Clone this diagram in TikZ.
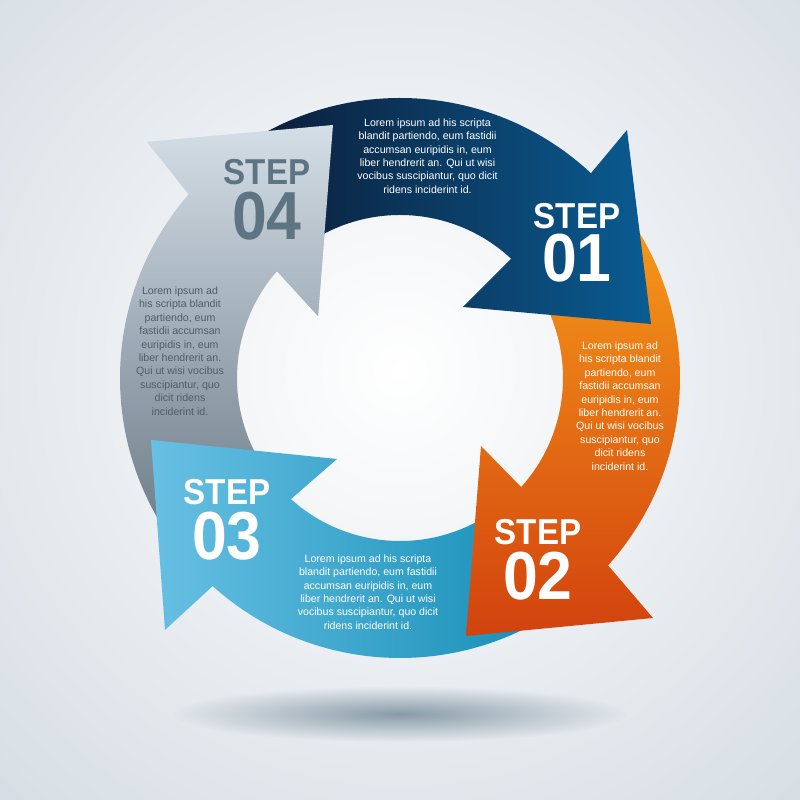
\documentclass[tikz,border=0pt]{standalone}
\usepackage{fontspec}
\setmainfont{Liberation Sans}
\usepackage{graphicx}
\usetikzlibrary{fadings}
\definecolor{bgout}{RGB}{212,220,227}
\definecolor{shadowc}{RGB}{120,142,156}
\definecolor{bluel}{RGB}{12,26,52}
\definecolor{bluem}{RGB}{14,52,94}
\definecolor{bluer}{RGB}{10,92,146}
\definecolor{orat}{RGB}{246,154,26}
\definecolor{oram}{RGB}{236,118,20}
\definecolor{orab}{RGB}{210,66,14}
\definecolor{cyal}{RGB}{104,192,228}
\definecolor{cyam}{RGB}{48,164,205}
\definecolor{cyar}{RGB}{18,140,180}
\definecolor{grat}{RGB}{212,222,230}
\definecolor{gram}{RGB}{168,182,193}
\definecolor{grab}{RGB}{108,123,136}
\definecolor{graytext}{RGB}{80,94,106}
\definecolor{step4c}{RGB}{95,116,131}
\tikzfading[name=shadowfade, inner color=transparent!15, outer color=transparent!100]
\newcommand\mysteplabel[2]{\vbox{\offinterlineskip\halign{\hfil##\hfil\cr
  \scalebox{0.92}[1]{\fontsize{36}{36}\selectfont STEP}\cr
  \noalign{\kern #2}
  \scalebox{0.92}[1]{\fontsize{68}{68}\selectfont #1}\cr}}}
\begin{document}
\begin{tikzpicture}[x=1pt,y=1pt,
  steptext/.style={font=\bfseries, inner sep=0pt},
  lorem/.style={font=\fontsize{10.6}{13.4}\selectfont, align=center, inner sep=0pt},
  blueband/.style={left color=bluel, middle color=bluem, right color=bluer},
  orangeband/.style={top color=orat, middle color=oram, bottom color=orab},
  cyanband/.style={left color=cyal, middle color=cyam, right color=cyar},
  grayband/.style={top color=grat, middle color=gram, bottom color=grab},
]
\useasboundingbox (0,0) rectangle (800,800);
\begin{scope}
  \clip (0,0) rectangle (800,800);
  \shade[inner color=white, outer color=bgout] (400,430) circle (620);
\end{scope}
\fill[shadowc, path fading=shadowfade] (400,86) ellipse (228 and 28);

\begin{scope}[shift={(400,422)}]
  \def\graypath{(216:280) arc[start angle=216,end angle=139,radius=280]
    -- (-253,236) -- (-67,253) -- (-82,62) -- (139:163)
    arc[start angle=139,end angle=216,radius=163] -- cycle}
  \def\cyanpath{(-54:280) arc[start angle=-54,end angle=-132,radius=280]
    -- (-235,-252) -- (-249,-62) -- (-63,-81) -- (-132:163)
    arc[start angle=-132,end angle=-54,radius=163] -- cycle}
  \def\orangepath{(35:280) arc[start angle=35,end angle=-42,radius=280]
    -- (253,-240) -- (66,-258) -- (81,-68) -- (-42:163)
    arc[start angle=-42,end angle=35,radius=163] -- cycle}
  \def\bluepath{(126:280) arc[start angle=126,end angle=47,radius=280]
    -- (227,248) -- (251,54) -- (63,71) -- (47:163)
    arc[start angle=47,end angle=126,radius=163] -- cycle}
  \shade[grayband] \graypath;
  \shade[cyanband] \cyanpath;
  \shade[orangeband] \orangepath;
  \shade[blueband] \bluepath;
  \begin{scope}
    \clip (-253,236) -- (-67,253) -- (-82,62) -- cycle;
    \shade[grayband] \graypath;
  \end{scope}
\end{scope}

% step labels
\node[steptext, text=white] (st1) at (577,557) {\mysteplabel{01}{5pt}};
\node[steptext, text=white] (st2) at (538,240) {\mysteplabel{02}{7pt}};
\node[steptext, text=white] (st3) at (227,280) {\mysteplabel{03}{7pt}};
\node[steptext, text=step4c] (st4) at (267,600) {\mysteplabel{04}{7pt}};

% body texts
\node[lorem, text=white] (t1) at (427.5,644) {Lorem ipsum ad his scripta\\blandit partiendo, eum fastidii\\accumsan euripidis in, eum\\liber hendrerit an. Qui ut wisi\\vocibus suscipiantur, quo dicit\\ridens inciderint id.};
\node[lorem, text=white] (t2) at (620,394) {Lorem ipsum ad\\his scripta blandit\\partiendo, eum\\fastidii accumsan\\euripidis in, eum\\liber hendrerit an.\\Qui ut wisi vocibus\\suscipiantur, quo\\dicit ridens\\inciderint id.};
\node[lorem, text=white] (t3) at (368,208) {Lorem ipsum ad his scripta\\blandit partiendo, eum fastidii\\accumsan euripidis in, eum\\liber hendrerit an. Qui ut wisi\\vocibus suscipiantur, quo dicit\\ridens inciderint id.};
\node[lorem, text=graytext] (t4) at (180,449) {Lorem ipsum ad\\his scripta blandit\\partiendo, eum\\fastidii accumsan\\euripidis in, eum\\liber hendrerit an.\\Qui ut wisi vocibus\\suscipiantur, quo\\dicit ridens\\inciderint id.};
\end{tikzpicture}
\end{document}
